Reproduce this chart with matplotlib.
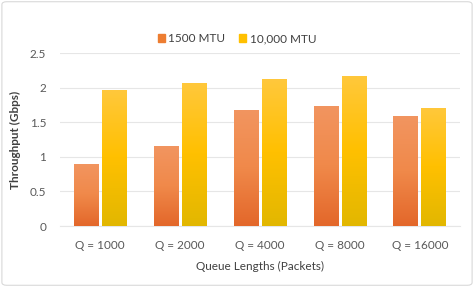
import matplotlib
matplotlib.use("Agg")
import matplotlib.pyplot as plt
import numpy as np
from matplotlib.patches import FancyBboxPatch, Rectangle
from matplotlib.colors import LinearSegmentedColormap

plt.rcParams['font.family'] = ['Lato', 'DejaVu Sans']

categories = ["Q = 1000", "Q = 2000", "Q = 4000", "Q = 8000", "Q = 16000"]
mtu1500 = [0.90, 1.15, 1.68, 1.74, 1.59]
mtu10000 = [1.97, 2.07, 2.12, 2.17, 1.71]
series_names = ["1500 MTU", "10,000 MTU"]

fig = plt.figure(figsize=(4.74, 2.87), dpi=100)
ax = fig.add_axes([0.127, 0.2125, 0.843, 0.6025])

x = np.arange(len(categories))
w = 0.31
gap = 0.04
cmap_o = LinearSegmentedColormap.from_list("o", ["#E3672A", "#F0894A", "#F29560"])
cmap_y = LinearSegmentedColormap.from_list("y", ["#E2B700", "#FFC000", "#FFC83C"])

grad = np.linspace(0, 1, 256).reshape(-1, 1)
for vals, off, cmap, solid in [(mtu1500, -(w + gap) / 2, cmap_o, "#ED7D31"),
                               (mtu10000, (w + gap) / 2, cmap_y, "#FFC000")]:
    bars = ax.bar(x + off, vals, width=w, color=solid, zorder=2)
    for b in bars:
        bx, by = b.get_x(), b.get_y()
        bw, bh = b.get_width(), b.get_height()
        im = ax.imshow(grad, cmap=cmap, origin="lower", aspect="auto",
                       extent=[bx, bx + bw, by, by + bh], zorder=3)
        im.set_clip_path(b)

ax.set_xlim(-0.5, len(categories) - 0.5)
ax.set_ylim(0, 2.5)
ax.set_yticks([0, 0.5, 1, 1.5, 2, 2.5])
ax.set_yticklabels(["0", "0.5", "1", "1.5", "2", "2.5"])
ax.set_xticks(x)
ax.set_xticklabels(categories)
ax.tick_params(axis='both', length=0, labelsize=8.5, colors="#595959")
ax.tick_params(axis='x', pad=10)
ax.tick_params(axis='y', pad=10)
ax.grid(axis='y', color="#E6E6E6", linewidth=0.8, zorder=0)
ax.set_axisbelow(True)
for s in ax.spines.values():
    s.set_visible(False)
ax.spines['bottom'].set_visible(True)
ax.spines['bottom'].set_color("#E6E6E6")

ax.set_xlabel("Queue Lengths (Packets)", fontsize=8.5, color="#404040", labelpad=7)
ax.set_ylabel("Throughput (Gbps)", fontsize=8.5, color="#404040", fontweight="bold", labelpad=6)

handles = [Rectangle((0, 0), 1, 1, color="#ED7D31"), Rectangle((0, 0), 1, 1, color="#FFC000")]
leg = fig.legend(handles, series_names, loc="center", bbox_to_anchor=(0.5, 0.865), ncol=2,
                 frameon=False, fontsize=8.5, handlelength=0.6, handleheight=0.6,
                 handletextpad=0.3, columnspacing=1.2)
for t in leg.get_texts():
    t.set_color("#404040")

border = FancyBboxPatch((0.004, 0.006), 0.992, 0.988, boxstyle="round,pad=0,rounding_size=0.01",
                        transform=fig.transFigure, facecolor="none", edgecolor="#D9D9D9", linewidth=0.8)
fig.patches.append(border)

fig.savefig("out.png", dpi=100)
